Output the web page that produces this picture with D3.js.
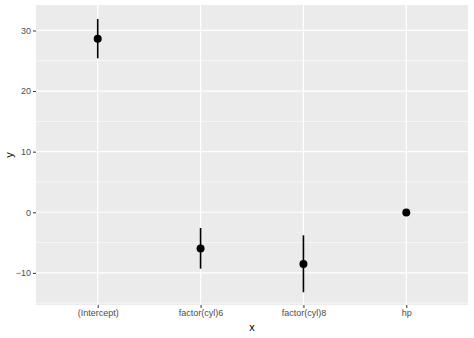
<!DOCTYPE html>
<html>
<head>
<meta charset="UTF-8">
<script src="https://d3js.org/d3.v7.min.js"></script>
<style>
  body { margin: 0; background: #fff; }
  text { font-family: "Liberation Sans", Arial, sans-serif; }
</style>
</head>
<body>
<svg id="chart" width="474" height="338"></svg>
<script>
// coefficient estimates with interval ends
const terms = ["(Intercept)", "factor(cyl)6", "factor(cyl)8", "hp"];
const estimate = [28.65, -5.97, -8.52, -0.02];
const lower = [25.4, -9.3, -13.2, -0.04];
const upper = [31.9, -2.6, -3.8, 0.0];
const yTicks = [-10, 0, 10, 20, 30];
const yMinor = [-15, -5, 5, 15, 25];

const svg = d3.select("#chart");
const m = { left: 36, right: 6, top: 5, bottom: 33 };
const W = 474, H = 338;

const x = d3.scalePoint().domain(terms).range([m.left, W - m.right]).padding(0.6);
const y = d3.scaleLinear().domain([-15.3, 34.2]).range([H - m.bottom, m.top]);

// panel background
svg.append("rect")
  .attr("x", m.left).attr("y", m.top)
  .attr("width", W - m.left - m.right).attr("height", H - m.top - m.bottom)
  .attr("fill", "#ebebeb");

const grid = svg.append("g");
grid.selectAll(".minor").data(yMinor).join("line")
  .attr("x1", m.left).attr("x2", W - m.right)
  .attr("y1", d => y(d)).attr("y2", d => y(d))
  .attr("stroke", "#fff").attr("stroke-width", 0.6);
grid.selectAll(".major").data(yTicks).join("line")
  .attr("x1", m.left).attr("x2", W - m.right)
  .attr("y1", d => y(d)).attr("y2", d => y(d))
  .attr("stroke", "#fff").attr("stroke-width", 1.2);
grid.selectAll(".vmajor").data(terms).join("line")
  .attr("x1", d => x(d)).attr("x2", d => x(d))
  .attr("y1", m.top).attr("y2", H - m.bottom)
  .attr("stroke", "#fff").attr("stroke-width", 1.2);

// axes
const yAxis = svg.append("g").attr("transform", `translate(${m.left},0)`)
  .call(d3.axisLeft(y).tickValues(yTicks).tickSize(3).tickPadding(2));
const xAxis = svg.append("g").attr("transform", `translate(0,${H - m.bottom})`)
  .call(d3.axisBottom(x).tickSize(3).tickPadding(2));
[yAxis, xAxis].forEach(a => {
  a.select(".domain").remove();
  a.selectAll(".tick line").attr("stroke", "#333").attr("stroke-width", 1);
  a.selectAll(".tick text").attr("fill", "#4d4d4d").style("font-size", "9px");
});

// intervals and points
const idx = d3.range(terms.length);
svg.append("g").selectAll("line").data(idx).join("line")
  .attr("x1", i => x(terms[i])).attr("x2", i => x(terms[i]))
  .attr("y1", i => y(lower[i])).attr("y2", i => y(upper[i]))
  .attr("stroke", "#000").attr("stroke-width", 1.6);
svg.append("g").selectAll("circle").data(idx).join("circle")
  .attr("cx", i => x(terms[i])).attr("cy", i => y(estimate[i]))
  .attr("r", 4).attr("fill", "#000");

// axis titles
svg.append("text").attr("x", (m.left + W - m.right) / 2).attr("y", 331)
  .attr("text-anchor", "middle").style("font-size", "11px").text("x");
svg.append("text").attr("transform", `translate(13,${(m.top + H - m.bottom) / 2}) rotate(-90)`)
  .attr("text-anchor", "middle").style("font-size", "11px").text("y");
</script>
</body>
</html>
